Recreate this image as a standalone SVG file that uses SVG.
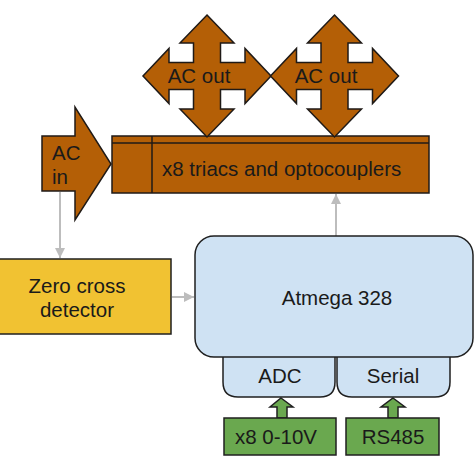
<svg xmlns="http://www.w3.org/2000/svg" width="474" height="474" viewBox="0 0 474 474">
<style>
.t{font-family:"Liberation Sans",Arial,sans-serif;font-size:20.5px;fill:#1a1a1a}
.m{text-anchor:middle}
.or{fill:#b45f06;stroke:#1f1a17;stroke-width:1.5;stroke-linejoin:miter}
.ln{stroke:#1f1a17;stroke-width:1.5;fill:none}
.bl{fill:#cfe2f3;stroke:#1f1f1f;stroke-width:1.5}
.gr{fill:#6aa84f;stroke:#1f1f1f;stroke-width:1.5}
.yl{fill:#f1c232;stroke:#1f1f1f;stroke-width:1.5}
.cn{stroke:#bdbdbd;stroke-width:2;fill:none}
</style>
<defs>
<path id="cross" d="M0,-61 L27,-33 L13.5,-33 L13.5,-13.5 L38,-13.5 L38,-27.5 L64,0 L38,27.5 L38,13.5 L13.5,13.5 L13.5,33 L27,33 L0,61 L-27,33 L-13.5,33 L-13.5,13.5 L-38,13.5 L-38,27.5 L-64,0 L-38,-27.5 L-38,-13.5 L-13.5,-13.5 L-13.5,-33 L-27,-33 Z"/>
<marker id="ah" viewBox="0 0 10 10" refX="10" refY="5" markerWidth="5" markerHeight="5" orient="auto" markerUnits="strokeWidth">
<path d="M0,0 L10,5 L0,10 Z" fill="#bdbdbd"/>
</marker>
</defs>

<g id="connectors">
<line class="cn" x1="60" y1="192" x2="60" y2="258" marker-end="url(#ah)"/>
<line class="cn" x1="172" y1="297" x2="194" y2="297" marker-end="url(#ah)"/>
<line class="cn" x1="336" y1="236" x2="336" y2="194" marker-end="url(#ah)"/>
</g>

<g id="triacs">
<rect class="or" x="112" y="136" width="317" height="57"/>
<line class="ln" x1="112" y1="143" x2="429" y2="143"/>
<line class="ln" x1="152" y1="136" x2="152" y2="193"/>
<text class="t" x="162" y="176">x8 triacs and optocouplers</text>
</g>

<g id="ac-in">
<path class="or" d="M42,136 L75,136 L75,107 L111,164 L75,220 L75,191 L42,191 Z"/>
<text class="t" x="52" y="160">AC</text>
<text class="t" x="52" y="184">in</text>
</g>

<g id="ac-out-1">
<use href="#cross" class="or" transform="translate(207,76)"/>
<text class="t m" x="199" y="83">AC out</text>
</g>

<g id="ac-out-2">
<use href="#cross" class="or" transform="translate(334.5,76)"/>
<text class="t m" x="326" y="83">AC out</text>
</g>

<g id="zero-cross">
<rect class="yl" x="-2" y="259" width="173" height="75"/>
<text class="t m" x="77" y="293">Zero cross</text>
<text class="t m" x="77" y="317">detector</text>
</g>

<g id="adc">
<path class="bl" d="M223,350 L223,382 Q223,397 238,397 L320,397 Q335,397 335,382 L335,350"/>
<text class="t m" x="280" y="383">ADC</text>
</g>

<g id="serial">
<path class="bl" d="M337,350 L337,382 Q337,397 352,397 L435,397 Q450,397 450,382 L450,350"/>
<text class="t m" x="393" y="383">Serial</text>
</g>

<g id="atmega">
<rect class="bl" x="195" y="236" width="278" height="121" rx="19" ry="19"/>
<text class="t m" x="337" y="305">Atmega 328</text>
</g>

<g id="analog-in">
<path class="gr" d="M281,398 L293,407 L287,407 L287,418 L277,418 L277,407 L270,407 Z"/>
<rect class="gr" x="224" y="418" width="112" height="37"/>
<text class="t m" x="276" y="444">x8 0-10V</text>
</g>

<g id="rs485">
<path class="gr" d="M393,398 L405,407 L398,407 L398,418 L388,418 L388,407 L381,407 Z"/>
<rect class="gr" x="346" y="418" width="93" height="37"/>
<text class="t m" x="393" y="444">RS485</text>
</g>
</svg>
